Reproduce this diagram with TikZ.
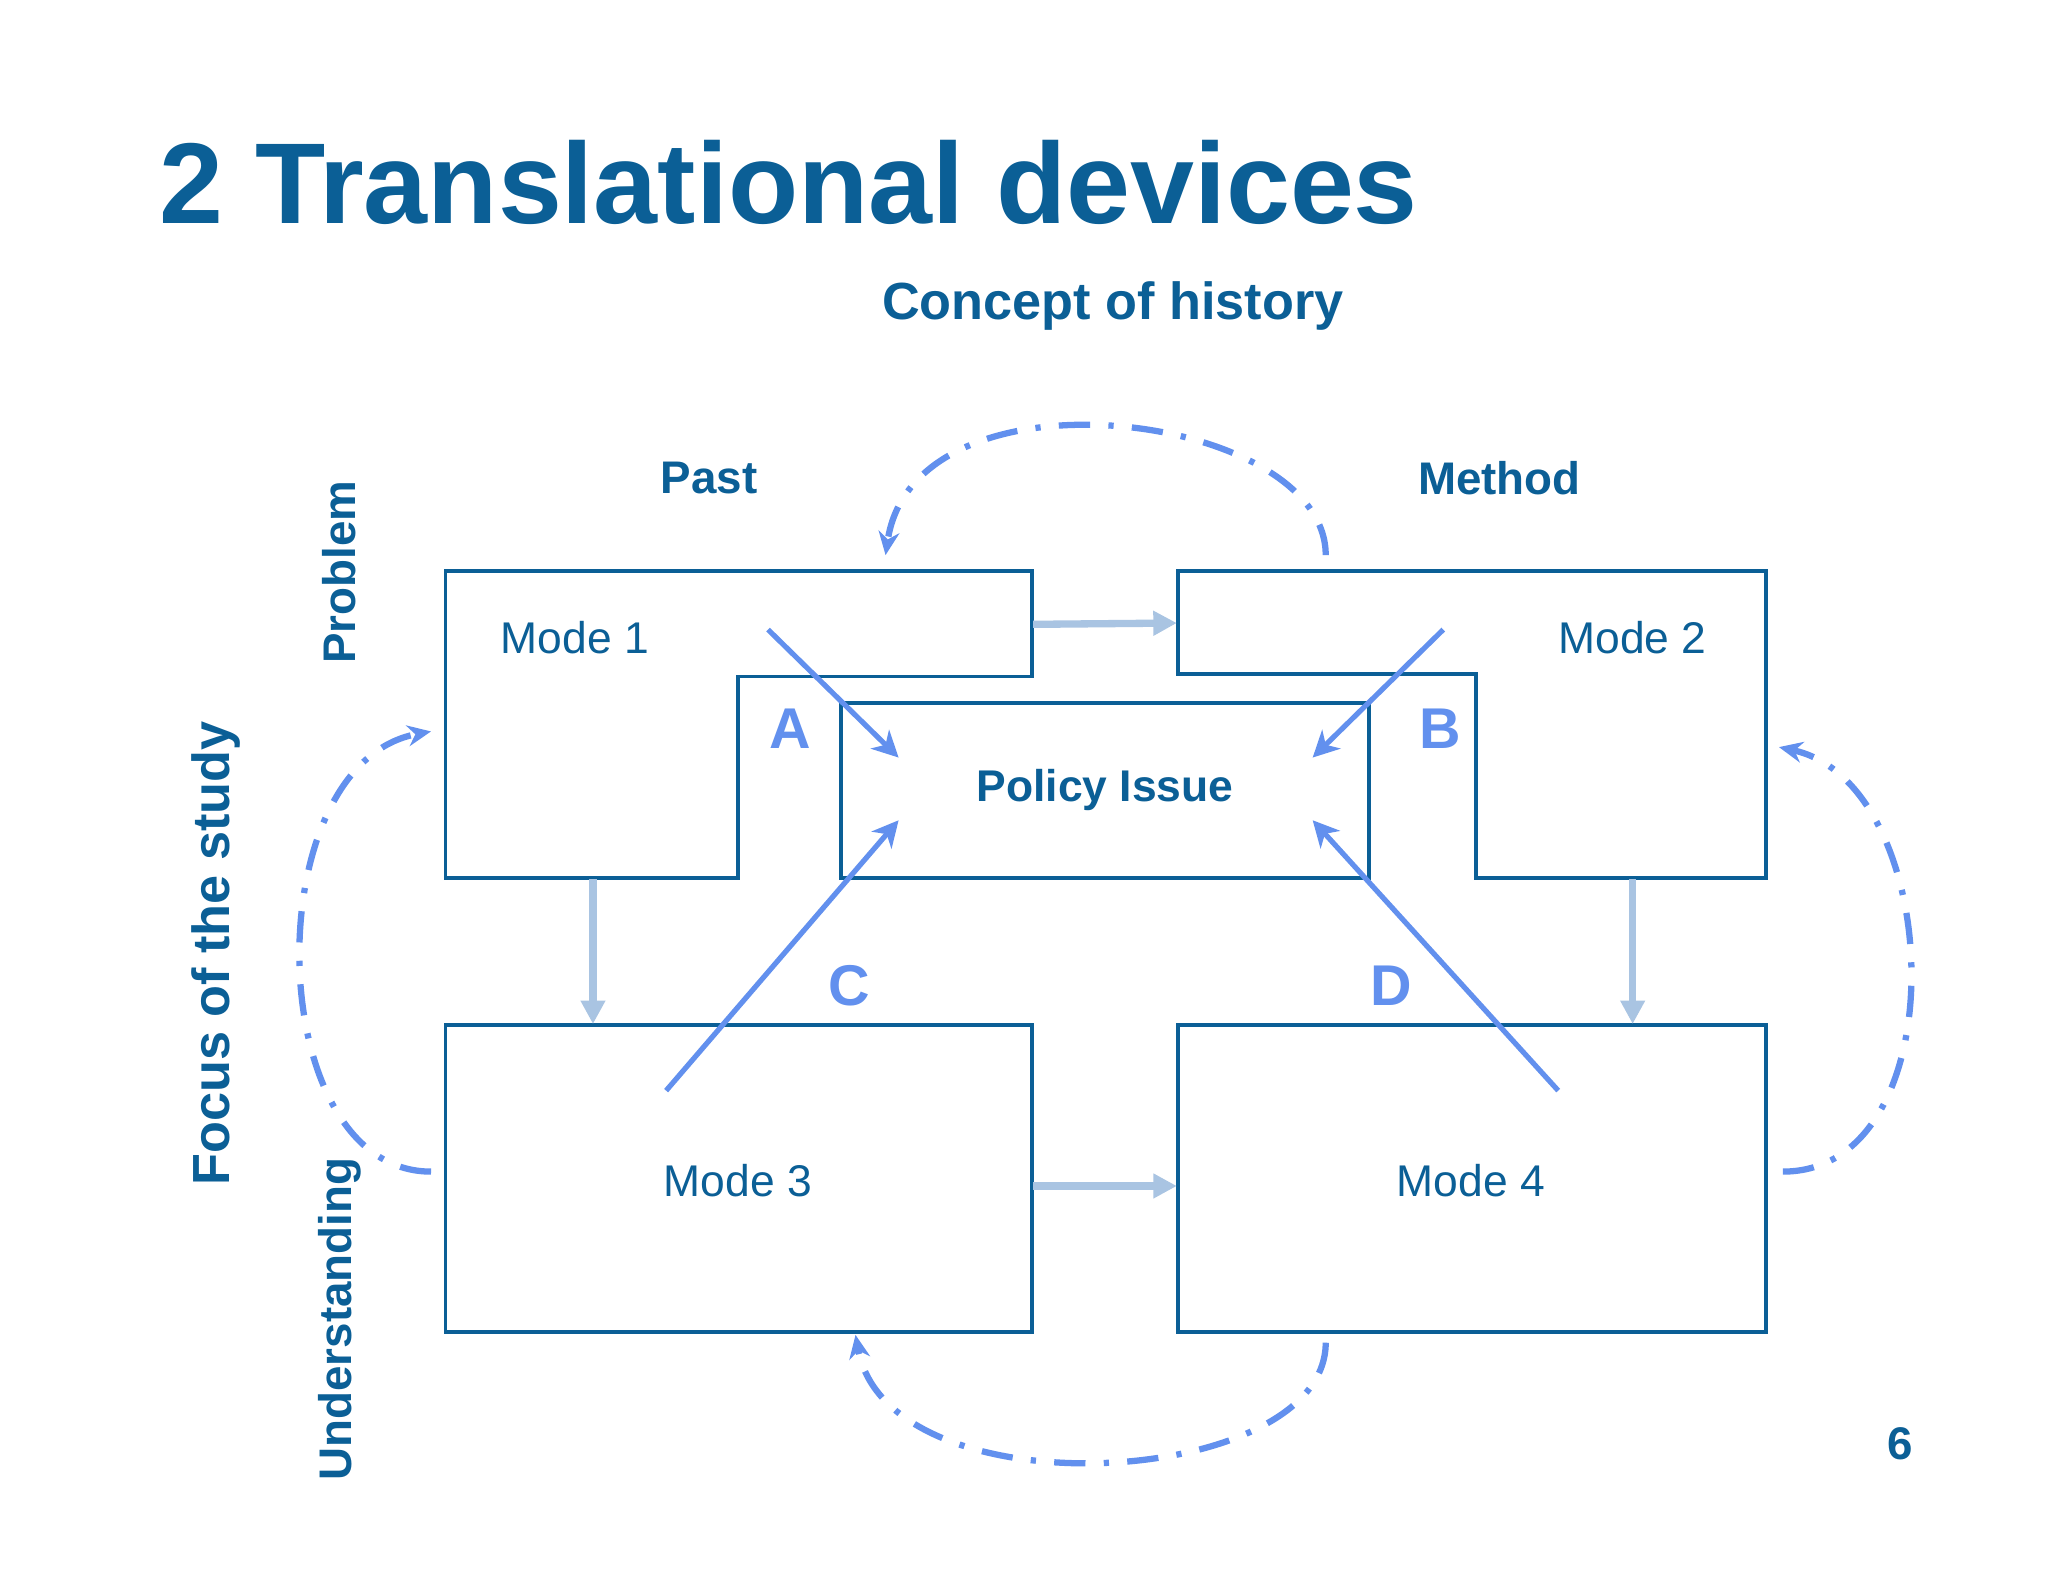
\documentclass[tikz,border=0pt]{standalone}
\usepackage{fontspec}
\setmainfont{Liberation Sans}
\usetikzlibrary{arrows.meta}
\definecolor{dk}{HTML}{0B5F96}
\definecolor{lt}{HTML}{A9C4E2}
\definecolor{bb}{HTML}{6290EE}
\begin{document}
\begin{tikzpicture}[x=0.5pt,y=-0.5pt,
 box/.style={draw=dk,line width=1.4pt},
 la/.style={lt,line width=2.8pt,-{Triangle[length=9pt,width=9pt]}},
 ba/.style={bb,line width=2pt,-{Stealth[length=10pt,width=10pt,inset=3pt]}},
 dd/.style={bb,line width=2.4pt,dash pattern=on 12pt off 7pt on 2pt off 7pt,-{Stealth[length=9pt,width=8pt]}},
 lab/.style={text=dk,font=\bfseries\fontsize{17.5}{20}\selectfont},
 md/.style={text=dk,font=\fontsize{17}{20}\selectfont},
 let/.style={text=bb,font=\bfseries\fontsize{22}{26}\selectfont}]
\useasboundingbox[fill=white] (0,0) rectangle (1568,1211);
\node[anchor=west,text=dk,font=\bfseries\fontsize{44}{50}\selectfont] (title) at (115,140) {2 Translational devices};
\node[text=dk,font=\bfseries\fontsize{20}{24}\selectfont] (coh) at (852,234) {Concept of history};
\node[lab] (past) at (543,366) {Past};
\node[lab] (meth) at (1148,366) {Method};
\node[lab,rotate=90] (prob) at (260,438) {Problem};
\node[lab,rotate=90] (und) at (260,1010) {Understanding};
\node[text=dk,font=\bfseries\fontsize{20}{24}\selectfont,rotate=90] (focus) at (165,730) {Focus of the study};
\node[lab] (pg) at (1455,1105) {6};
% boxes
\draw[box] (341,437)--(790,437)--(790,518)--(565,518)--(565,672)--(341,672)--cycle;
\draw[box] (902,437)--(1352,437)--(1352,672)--(1130,672)--(1130,516)--(902,516)--cycle;
\node[box,minimum width=202pt,minimum height=67pt,inner sep=0pt,text=dk,font=\bfseries\fontsize{17}{20}\selectfont] (pol) at (846,605) {Policy Issue};
\node[box,minimum width=224.5pt,minimum height=117.5pt,inner sep=0pt] (m3) at (565.5,902.5) {};
\node[box,minimum width=225pt,minimum height=117.5pt,inner sep=0pt] (m4) at (1127,902.5) {};
\node[md] (t1) at (440,488) {Mode 1};
\node[md] (t2) at (1250,488) {Mode 2};
\node[md] (t3) at (565,904) {Mode 3};
\node[md] (t4) at (1126,904) {Mode 4};
\node[let] (A) at (605,558) {A};
\node[let] (B) at (1103,558) {B};
\node[let] (C) at (650,755) {C};
\node[let] (D) at (1065,755) {D};
% coordinates
\coordinate (a1) at (791,478); \coordinate (a2) at (901,477);
\coordinate (b1) at (454,673); \coordinate (b2) at (454,784);
\coordinate (c1) at (1250,673); \coordinate (c2) at (1250,784);
\coordinate (d1) at (791,908); \coordinate (d2) at (901,908);
\draw[la] (a1)--(a2); \draw[la] (b1)--(b2); \draw[la] (c1)--(c2); \draw[la] (d1)--(d2);
\coordinate (e1) at (588,482); \coordinate (e2) at (688,580);
\coordinate (f1) at (1105,482); \coordinate (f2) at (1005,580);
\coordinate (g1) at (510,835); \coordinate (g2) at (688,628);
\coordinate (h1) at (1193,835); \coordinate (h2) at (1005,628);
\draw[ba] (e1)--(e2); \draw[ba] (f1)--(f2); \draw[ba] (g1)--(g2); \draw[ba] (h1)--(h2);
% dash-dot loops
\coordinate (p1) at (1015,425); \coordinate (p2) at (678,425);
\draw[dd] (p1) .. controls (1015,315) and (700,275) .. (p2);
\coordinate (q1) at (1015,1028); \coordinate (q2) at (655,1022);
\draw[dd] (q1) .. controls (1015,1140) and (680,1160) .. (q2);
\coordinate (r1) at (330,897); \coordinate (r2) at (330,560);
\draw[dd] (r1) .. controls (200,897) and (195,585) .. (r2);
\coordinate (s1) at (1365,897); \coordinate (s2) at (1362,572);
\draw[dd] (s1) .. controls (1500,897) and (1490,600) .. (s2);
\end{tikzpicture}
\end{document}
